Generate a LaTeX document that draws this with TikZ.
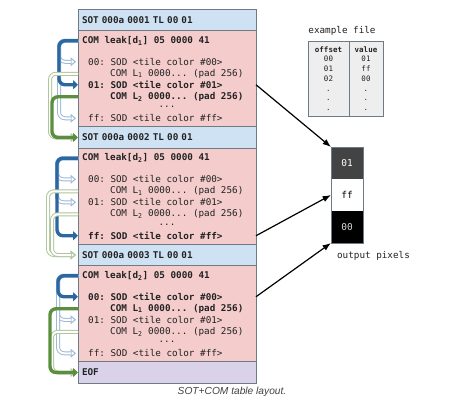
\documentclass[tikz,border=0pt]{standalone}
\usepackage{fontspec}
\setmainfont{Liberation Sans}
\setmonofont{DejaVu Sans Mono}
\usetikzlibrary{arrows.meta,calc,positioning}
\definecolor{ink}{HTML}{222222}
\definecolor{frame}{HTML}{6E7A84}
\definecolor{sotblue}{HTML}{CFE2F3}
\definecolor{compink}{HTML}{F4CCCC}
\definecolor{eofpurple}{HTML}{D9D2E9}
\definecolor{leakblue}{HTML}{2B67A0}
\definecolor{leakpale}{HTML}{9DB9D6}
\definecolor{padgreen}{HTML}{5B8F3F}
\definecolor{padpale}{HTML}{AFC59C}
\definecolor{cellgray}{HTML}{EEEEEE}
\definecolor{pixdark}{HTML}{434343}

\begin{document}
\begin{tikzpicture}[x=1pt,y=-1pt,>=Latex,node distance=0pt,
  seg/.style={draw=frame,line width=0.8pt,minimum width=178pt,text width=170pt,align=left,inner sep=0pt,outer sep=0pt,text=ink,font=\fontsize{9.3}{11}\selectfont\ttfamily\bfseries},
  txt/.style={font=\fontsize{9.3}{11}\selectfont\ttfamily,inner sep=0pt,text=ink},
  hot/.style={font=\fontsize{9.3}{11}\selectfont\ttfamily\bfseries,inner sep=0pt,text=ink},
  sel/.style={line width=3.4pt,rounded corners=6pt,-{Triangle[length=5pt,width=9pt]}},
  alt/.style={draw=white,line width=2pt,rounded corners=6pt,shorten >=7pt,
    preaction={draw=#1,line width=4pt,shorten >=2pt,-{Triangle[open,length=5.5pt,width=9pt,line width=1pt]}}},
  pix/.style={minimum width=32pt,minimum height=32pt,inner sep=0pt,outer sep=0pt,font=\fontsize{9.5}{11}\selectfont\ttfamily},
  cell/.style={draw=frame,fill=cellgray,line width=0.7pt,minimum height=75pt,inner sep=0pt,outer sep=0pt,align=center,font=\fontsize{7.5}{9.7}\selectfont\ttfamily,text=ink}]
\path[use as bounding box,fill=white] (0,0) rectangle (474,402);

% table segments
\node[seg,fill=sotblue,minimum height=21.5pt] (sot1) at (167,20) {SOT 000a 0001 TL 00 01};
\node[seg,fill=compink,minimum height=96pt,below=of sot1] (comA) {};
\node[seg,fill=sotblue,minimum height=21.5pt,below=of comA] (sot2) {SOT 000a 0002 TL 00 01};
\node[seg,fill=compink,minimum height=96pt,below=of sot2] (comB) {};
\node[seg,fill=sotblue,minimum height=21.5pt,below=of comB] (sot3) {SOT 000a 0003 TL 00 01};
\node[seg,fill=compink,minimum height=96pt,below=of sot3] (comC) {};
\node[seg,fill=eofpurple,minimum height=21.5pt,below=of comC] (eof) {EOF};

% first COM block
\node[hot,anchor=west] (kA) at ($(comA.north west)+(4,10)$) {COM leak[d\textsubscript{1}] 05 0000 41};
\node[txt,anchor=west] (tA0) at ($(comA.north west)+(10,31)$) {00: SOD <tile color \#00>};
\node[txt,anchor=west] (lA1) at ($(comA.north west)+(32,43)$) {COM L\textsubscript{1} 0000... (pad 256)};
\node[hot,anchor=west] (tA1) at ($(comA.north west)+(10,54)$) {01: SOD <tile color \#01>};
\node[hot,anchor=west] (lA2) at ($(comA.north west)+(32,66)$) {COM L\textsubscript{2} 0000... (pad 256)};
\node[txt] (dA) at ($(comA.north)+(0,76.5)$) {...};
\node[txt,anchor=west] (tAf) at ($(comA.north west)+(10,87.5)$) {ff: SOD <tile color \#ff>};

% second COM block
\node[hot,anchor=west] (kB) at ($(comB.north west)+(4,10)$) {COM leak[d\textsubscript{2}] 05 0000 41};
\node[txt,anchor=west] (tB0) at ($(comB.north west)+(10,31)$) {00: SOD <tile color \#00>};
\node[txt,anchor=west] (lB1) at ($(comB.north west)+(32,43)$) {COM L\textsubscript{1} 0000... (pad 256)};
\node[txt,anchor=west] (tB1) at ($(comB.north west)+(10,54)$) {01: SOD <tile color \#01>};
\node[txt,anchor=west] (lB2) at ($(comB.north west)+(32,66)$) {COM L\textsubscript{2} 0000... (pad 256)};
\node[txt] (dB) at ($(comB.north)+(0,76.5)$) {...};
\node[hot,anchor=west] (tBf) at ($(comB.north west)+(10,87.5)$) {ff: SOD <tile color \#ff>};

% third COM block
\node[hot,anchor=west] (kC) at ($(comC.north west)+(4,10)$) {COM leak[d\textsubscript{2}] 05 0000 41};
\node[hot,anchor=west] (tC0) at ($(comC.north west)+(10,31)$) {00: SOD <tile color \#00>};
\node[hot,anchor=west] (lC1) at ($(comC.north west)+(32,43)$) {COM L\textsubscript{1} 0000... (pad 256)};
\node[txt,anchor=west] (tC1) at ($(comC.north west)+(10,54)$) {01: SOD <tile color \#01>};
\node[txt,anchor=west] (lC2) at ($(comC.north west)+(32,66)$) {COM L\textsubscript{2} 0000... (pad 256)};
\node[txt] (dC) at ($(comC.north)+(0,76.5)$) {...};
\node[txt,anchor=west] (tCf) at ($(comC.north west)+(10,87.5)$) {ff: SOD <tile color \#ff>};

% jumps of block 1
\draw[alt=leakpale] (kA.west -| comA.west) -- ++(-19,0) |- (tA0.west -| comA.west);
\draw[alt=leakpale] (kA.west -| comA.west) -- ++(-19,0) |- (tAf.west -| comA.west);
\draw[sel,leakblue] (kA.west -| comA.west) -- ++(-19,0) |- (tA1.west -| comA.west);
\draw[alt=padpale] (lA1.west -| comA.west) -- ++(-28,0) |- (sot2.west);
\draw[sel,padgreen] (lA2.west -| comA.west) -- ++(-26,0) |- (sot2.west);

% jumps of block 2
\draw[alt=leakpale] (kB.west -| comB.west) -- ++(-21,0) |- (tB0.west -| comB.west);
\draw[alt=leakpale] (kB.west -| comB.west) -- ++(-21,0) |- (tB1.west -| comB.west);
\draw[sel,leakblue] (kB.west -| comB.west) -- ++(-21,0) |- (tBf.west -| comB.west);
\draw[alt=padpale] (lB1.west -| comB.west) -- ++(-30,0) |- (sot3.west);
\draw[alt=padpale] (lB2.west -| comB.west) -- ++(-26,0) |- (sot3.west);

% jumps of block 3
\draw[alt=leakpale] (kC.west -| comC.west) -- ++(-20,0) |- (tC1.west -| comC.west);
\draw[alt=leakpale] (kC.west -| comC.west) -- ++(-20,0) |- (tCf.west -| comC.west);
\draw[sel,leakblue] (kC.west -| comC.west) -- ++(-20,0) |- (tC0.west -| comC.west);
\draw[alt=padpale] (lC2.west -| comC.west) -- ++(-26,0) |- (eof.west);
\draw[sel,padgreen] (lC1.west -| comC.west) -- ++(-28,0) |- (eof.west);

% example file
\node[txt] (exlabel) at (342,31) {example file};
\node[cell,minimum width=41pt] (offs) at (328.5,78.5) {\textbf{offset}\\00\\01\\02\\.\\.\\.};
\node[cell,minimum width=34pt,right=of offs] (vals) {\textbf{value}\\01\\ff\\00\\.\\.\\.};

% output pixels
\node[pix,fill=pixdark,text=white] (p01) at (347,163) {01};
\node[pix,fill=white,text=black,below=of p01] (pff) {ff};
\node[pix,fill=black,text=white!85!black,below=of pff] (p00) {00};
\draw[frame,line width=0.7pt] (p01.north west) rectangle (p00.south east);
\node[txt] (outlabel) at (373.5,256) {output pixels};

\draw[->,line width=1.2pt] (tA1.west -| comA.east) -- (p01.north west);
\draw[->,line width=1.2pt] (tBf.west -| comB.east) -- (pff.west);
\draw[->,line width=1.2pt] (tC0.west -| comC.east) -- (p00.south west);

\node[font=\fontsize{10.2}{12}\selectfont\itshape,text=ink!85] (caption) at (232,392) {SOT+COM table layout.};
\end{tikzpicture}
\end{document}
